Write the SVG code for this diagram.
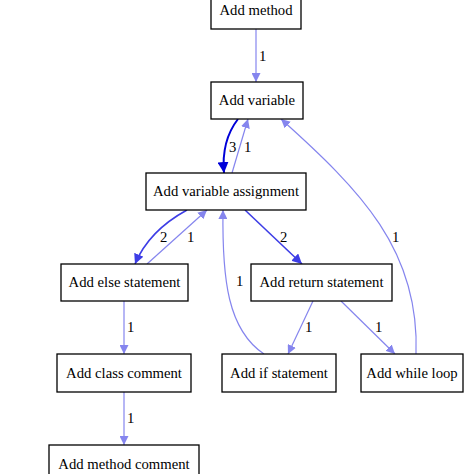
<svg xmlns="http://www.w3.org/2000/svg" width="474" height="474" viewBox="0 0 474 474">
<defs>
<style>
.box{fill:#fff;stroke:#000;stroke-width:1.3}
.t{font-family:"Liberation Serif","Times New Roman",serif;font-size:14.7px;fill:#000;text-anchor:middle}
.l{font-family:"Liberation Serif","Times New Roman",serif;font-size:14.7px;fill:#000}
.e1{fill:none;stroke:#8585ee;stroke-width:1.2}
.e2{fill:none;stroke:#3d3de6;stroke-width:1.6}
.e3{fill:none;stroke:#0000d8;stroke-width:2}
</style>
<marker id="a1" viewBox="0 0 10 10" refX="10" refY="5" markerWidth="9" markerHeight="9" markerUnits="userSpaceOnUse" orient="auto"><path d="M0,0L10,5L0,10z" fill="#8585ee"/></marker>
<marker id="a2" viewBox="0 0 10 10" refX="10" refY="5" markerWidth="10" markerHeight="10" markerUnits="userSpaceOnUse" orient="auto"><path d="M0,0L10,5L0,10z" fill="#3d3de6"/></marker>
<marker id="a3" viewBox="0 0 10 10" refX="10" refY="5" markerWidth="11" markerHeight="11" markerUnits="userSpaceOnUse" orient="auto"><path d="M0,0L10,5L0,10z" fill="#0000d8"/></marker>
</defs>
<rect width="474" height="474" fill="#fff"/>
<g id="connectors">
<path class="e1" d="M256,29L256,82" marker-end="url(#a1)"/>
<text class="l" x="259" y="61">1</text>
<path class="e3" d="M238,119C228,132 222,150 224,173" marker-end="url(#a3)"/>
<text class="l" x="229" y="152">3</text>
<path class="e1" d="M232,173L248,119" marker-end="url(#a1)"/>
<text class="l" x="244" y="152">1</text>
<path class="e2" d="M187,210C165,222 145,240 135,264" marker-end="url(#a2)"/>
<text class="l" x="160" y="242">2</text>
<path class="e1" d="M147,264L207,210" marker-end="url(#a1)"/>
<text class="l" x="187" y="242">1</text>
<path class="e1" d="M264,354C228,330 222,280 223,210" marker-end="url(#a1)"/>
<text class="l" x="236" y="286">1</text>
<path class="e2" d="M245,210L302,264" marker-end="url(#a2)"/>
<text class="l" x="280" y="242">2</text>
<path class="e1" d="M416,354C420,250 360,190 281,119" marker-end="url(#a1)"/>
<text class="l" x="392" y="242">1</text>
<path class="e1" d="M313,301L288,354" marker-end="url(#a1)"/>
<text class="l" x="305" y="332">1</text>
<path class="e1" d="M341,301L395,354" marker-end="url(#a1)"/>
<text class="l" x="375" y="332">1</text>
<path class="e1" d="M124,301L124,354" marker-end="url(#a1)"/>
<text class="l" x="127" y="332">1</text>
<path class="e1" d="M124,392L124,445" marker-end="url(#a1)"/>
<text class="l" x="127" y="423">1</text>
</g>
<g id="n-method"><rect class="box" x="211" y="-9" width="90" height="38"/><text class="t" x="256" y="15">Add method</text></g>
<g id="n-variable"><rect class="box" x="211" y="82" width="92" height="37"/><text class="t" x="257" y="105">Add variable</text></g>
<g id="n-assign"><rect class="box" x="146" y="173" width="160" height="37"/><text class="t" x="226" y="196">Add variable assignment</text></g>
<g id="n-else"><rect class="box" x="61" y="264" width="127" height="37"/><text class="t" x="124.5" y="287">Add else statement</text></g>
<g id="n-return"><rect class="box" x="251" y="264" width="141" height="37"/><text class="t" x="321.5" y="287">Add return statement</text></g>
<g id="n-class"><rect class="box" x="57" y="354" width="134" height="38"/><text class="t" x="124" y="378">Add class comment</text></g>
<g id="n-if"><rect class="box" x="222" y="354" width="114" height="38"/><text class="t" x="279" y="378">Add if statement</text></g>
<g id="n-while"><rect class="box" x="361" y="354" width="102" height="38"/><text class="t" x="412" y="378">Add while loop</text></g>
<g id="n-mcomment"><rect class="box" x="49" y="445" width="150" height="38"/><text class="t" x="124" y="469">Add method comment</text></g>
</svg>
